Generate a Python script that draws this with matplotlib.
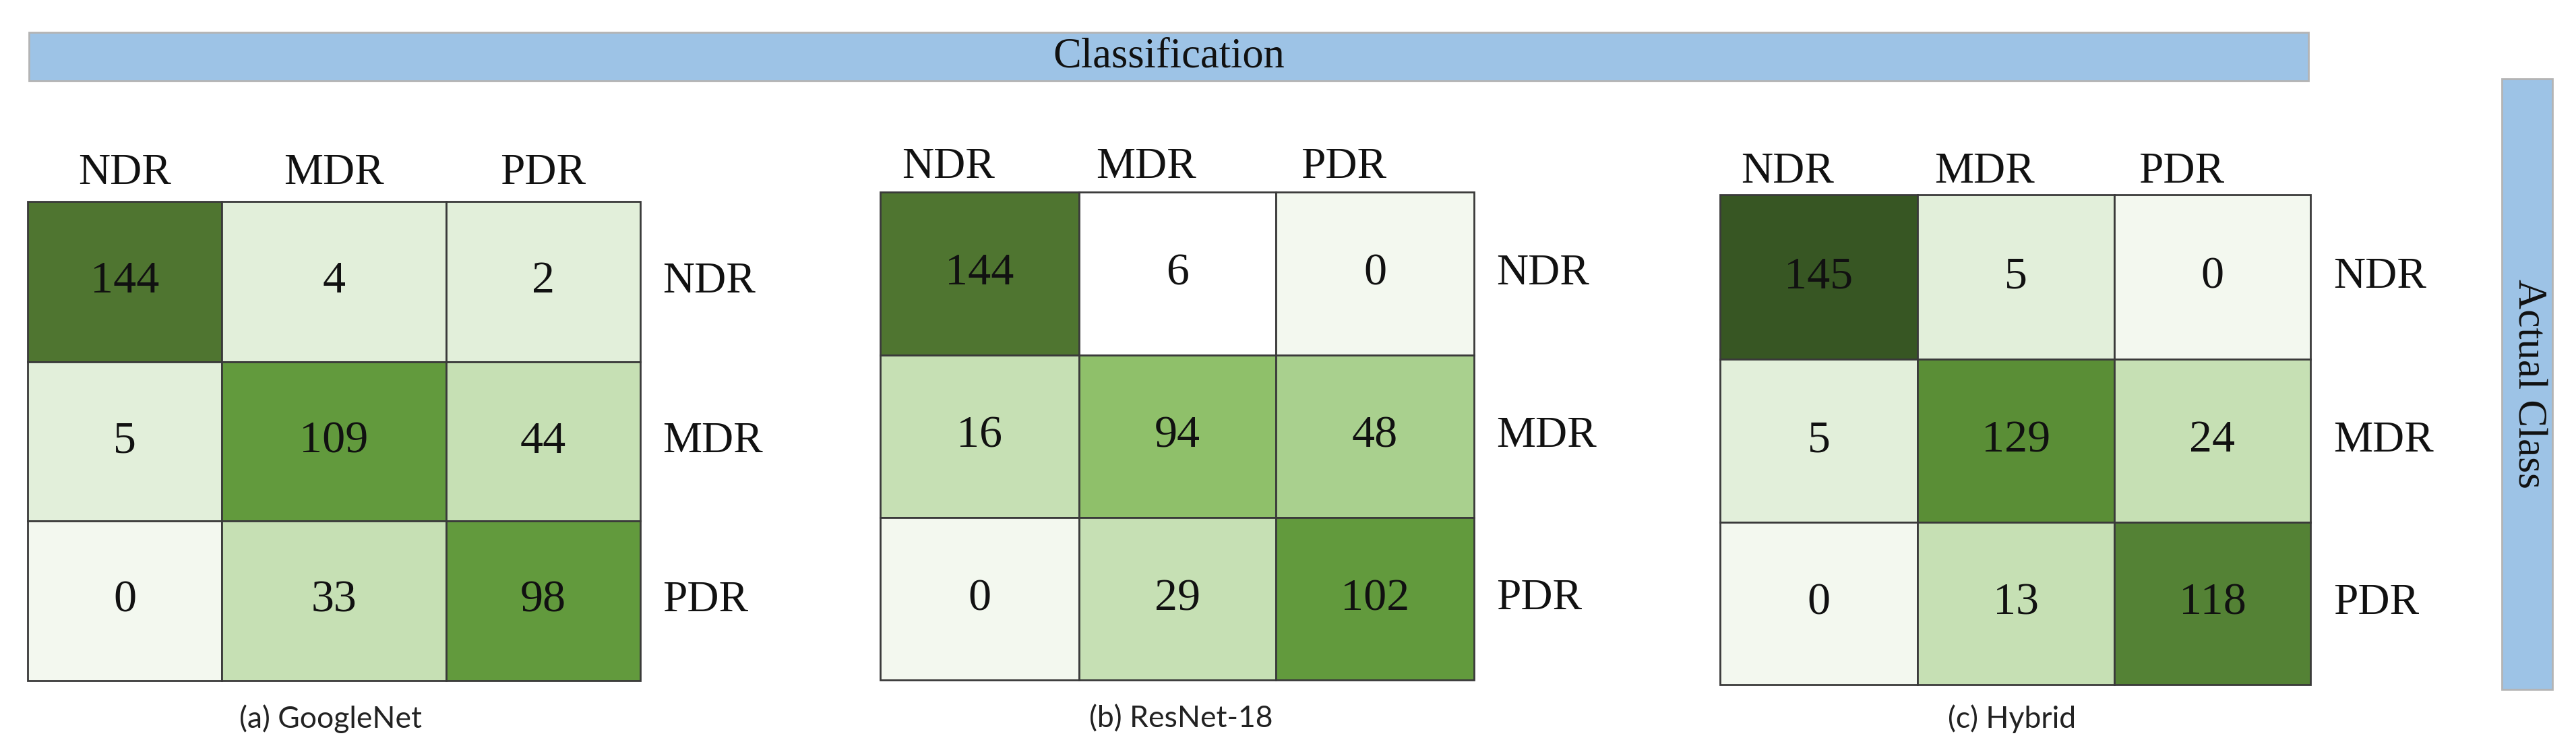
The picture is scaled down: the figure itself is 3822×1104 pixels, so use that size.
import matplotlib
matplotlib.use("Agg")
import matplotlib.pyplot as plt
from matplotlib.patches import Rectangle

# Class labels and confusion matrices (rows = actual, cols = predicted)
classes = ["NDR", "MDR", "PDR"]
captions = ["(a) GoogleNet", "(b) ResNet-18", "(c) Hybrid"]

googlenet = [[144, 4, 2],
             [5, 109, 44],
             [0, 33, 98]]
resnet18 = [[144, 6, 0],
            [16, 94, 48],
            [0, 29, 102]]
hybrid = [[145, 5, 0],
          [5, 129, 24],
          [0, 13, 118]]
matrices = [googlenet, resnet18, hybrid]

# cell fills as drawn in the original figure
fills = [
    [["#4f7530", "#e2efda", "#e2efda"],
     ["#e2efda", "#629a3d", "#c6e0b4"],
     ["#f3f8ef", "#c6e0b4", "#629a3d"]],
    [["#4f7530", "#ffffff", "#f3f8ef"],
     ["#c6e0b4", "#8fc06a", "#a9d08e"],
     ["#f3f8ef", "#c6e0b4", "#629a3d"]],
    [["#375623", "#e2efda", "#f3f8ef"],
     ["#e2efda", "#5a8e36", "#c6e0b4"],
     ["#f3f8ef", "#c6e0b4", "#548235"]],
]

# layout in pixels (figure is 3823 x 1104)
W, H = 3823, 1104
col_edges = [[41, 329, 662, 950], [1306, 1601, 1893, 2187], [2552, 2845, 3137, 3428]]
row_edges = [[299, 537, 773, 1010], [285, 527, 768, 1009], [289, 533, 775, 1016]]
header_y = [257, 248, 255]
header_dx = [0, -46, -46]
rowlab_x = [983, 2220, 3462]
caption_x = [491, 1752, 2985]
caption_y = 1067

serif = "Liberation Serif"

fig = plt.figure(figsize=(W / 100, H / 100), dpi=100)
ax = fig.add_axes([0, 0, 1, 1])
ax.set_xlim(0, W)
ax.set_ylim(H, 0)
ax.axis("off")

# top banner
ax.add_patch(Rectangle((43, 48), 3425 - 43, 72, facecolor="#9dc3e6",
                       edgecolor="#b4b4b4", lw=2))
ax.text((43 + 3425) / 2, 85, "Classification", ha="center", va="center",
        fontsize=45, family=serif, color="#111111")

# right banner
ax.add_patch(Rectangle((3712, 117), 75, 1023 - 117, facecolor="#9dc3e6",
                       edgecolor="#b4b4b4", lw=2))
ax.text(3751, 570, "Actual Class", ha="center", va="center", rotation=-90,
        fontsize=44, family=serif, color="#111111")

for k, mat in enumerate(matrices):
    xs = col_edges[k]
    ys = row_edges[k]
    for i in range(3):
        for j in range(3):
            ax.add_patch(Rectangle((xs[j], ys[i]), xs[j + 1] - xs[j], ys[i + 1] - ys[i],
                                   facecolor=fills[k][i][j], edgecolor="#3a3a3a", lw=2))
            ax.text((xs[j] + xs[j + 1]) / 2, (ys[i] + ys[i + 1]) / 2, str(mat[i][j]),
                    ha="center", va="center", fontsize=49, family=serif, color="#111111")
    for j, name in enumerate(classes):
        ax.text((xs[j] + xs[j + 1]) / 2 + header_dx[k], header_y[k], name,
                ha="center", va="center", fontsize=47, family=serif, color="#111111")
    for i, name in enumerate(classes):
        ax.text(rowlab_x[k], (ys[i] + ys[i + 1]) / 2, name,
                ha="left", va="center", fontsize=47, family=serif, color="#111111")
    ax.text(caption_x[k], caption_y, captions[k], ha="center", va="center",
            fontsize=32, family="Lato", color="#222222")

fig.savefig("out.png", dpi=100)
